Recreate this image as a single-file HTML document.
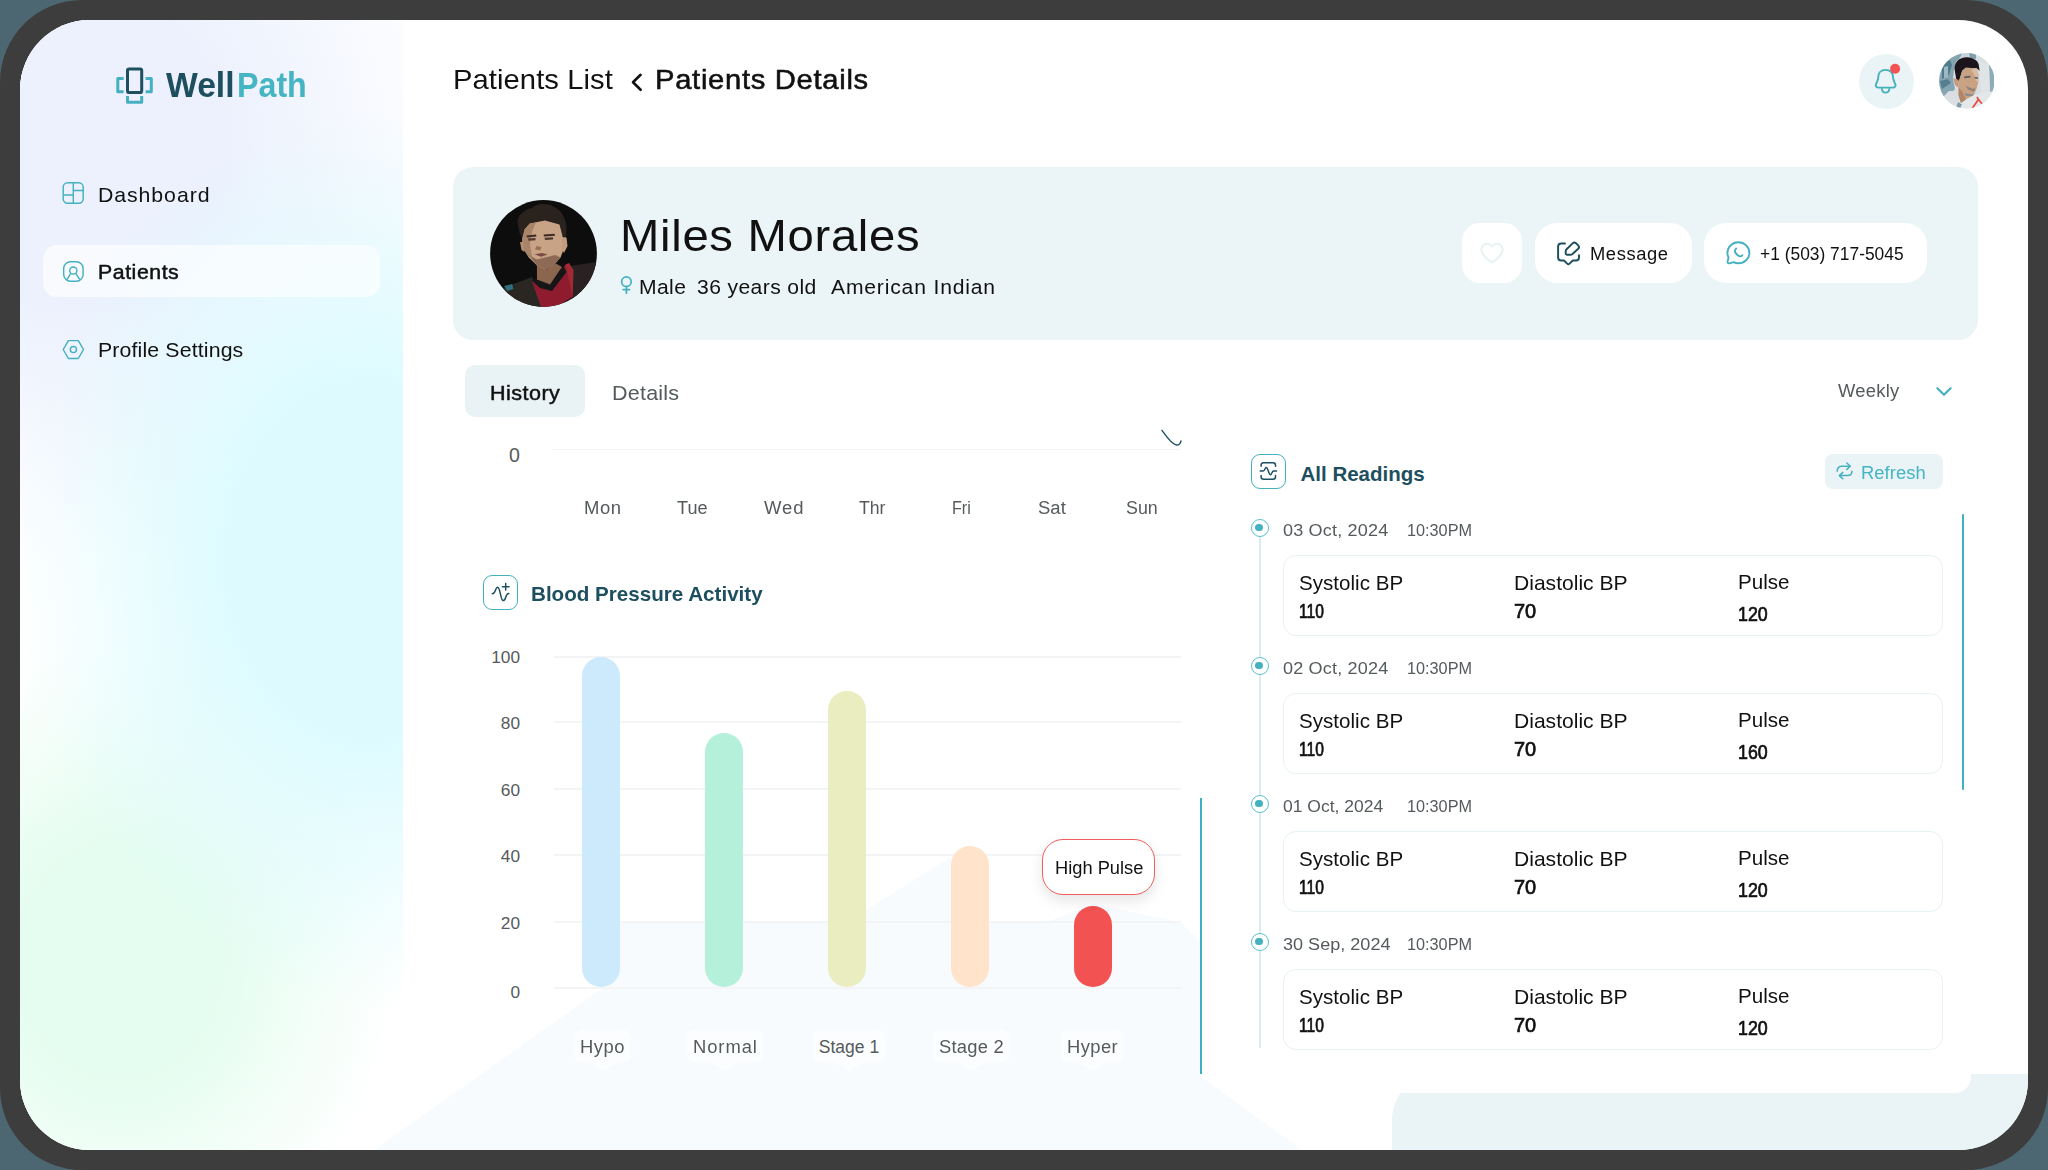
<!DOCTYPE html>
<html lang="en">
<head>
<meta charset="utf-8">
<title>WellPath - Patients Details</title>
<style>
html,body{margin:0;padding:0;}
body{width:2048px;height:1170px;overflow:hidden;background:#4c6771;font-family:"Liberation Sans",sans-serif;position:relative;}
.frame{position:absolute;left:0;top:0;width:2048px;height:1170px;background:#3d3d3d;border-radius:82px;}
.screen{position:absolute;left:20px;top:20px;width:2008px;height:1130px;border-radius:70px;overflow:hidden;background:#fff;}
.page{position:absolute;left:-20px;top:-20px;width:2048px;height:1170px;}
.abs{position:absolute;}
.t{position:absolute;white-space:pre;line-height:1;font-family:"Liberation Sans",sans-serif;}
.sidebar{position:absolute;left:20px;top:20px;width:383px;height:1130px;
 background:
  radial-gradient(ellipse 360px 450px at 350px 540px, rgba(221,251,255,1) 0%, rgba(221,251,255,1) 40%, rgba(221,251,255,0) 100%),
  radial-gradient(ellipse 280px 320px at 100px 940px, rgba(229,253,240,1) 0%, rgba(229,253,240,1) 36%, rgba(229,253,240,0) 100%),
  radial-gradient(ellipse 390px 420px at 60px 130px, rgba(236,241,253,1) 0%, rgba(236,241,253,1) 38%, rgba(236,241,253,0) 100%),
  #fff;}
.grid{position:absolute;left:554px;width:627px;height:2px;background:#f3f4f5;}
.bar{position:absolute;width:38px;border-radius:19px;}
.rcard{position:absolute;left:1282.5px;width:660px;height:80.6px;box-sizing:border-box;border:1.3px solid #e7f1f3;border-radius:13px;background:#fff;}
.dot{position:absolute;left:1250.5px;width:18px;height:18px;box-sizing:border-box;border:1.5px solid #5cbfcc;border-radius:50%;background:#fff;}
.dot i{position:absolute;left:3.9px;top:3.9px;width:7.2px;height:7.2px;border-radius:50%;background:#45b1c0;}
.xl{position:absolute;background:#fff;border-radius:8px;opacity:.7;filter:blur(1.2px);}
.xl:after{content:"";position:absolute;left:50%;bottom:-9px;margin-left:-16px;border-left:16px solid transparent;border-right:16px solid transparent;border-top:10px solid #fff;}
</style>
</head>
<body>
<div class="frame"></div>
<div class="screen"><div class="page">

<!-- background decorative shapes -->
<div class="abs" style="left:1392px;top:1074px;width:700px;height:100px;background:#eaf3f5;border-top-left-radius:46px;"></div>
<div class="abs" style="left:1380px;top:1040px;width:591px;height:53px;background:#fff;border-bottom-right-radius:16px;"></div>

<!-- sidebar -->
<div class="sidebar"></div>
<div class="abs" style="left:43px;top:245px;width:337px;height:52px;border-radius:14px;background:rgba(255,255,255,.62);"></div>

<svg class="abs" style="left:0;top:0" width="2048" height="1170" viewBox="0 0 2048 1170">
  <polygon fill="#f7fbfe" points="374,1150 601.5,989 601.5,922 847,922 970,845 970,922 1047,922 1093,904 1180,922 1200,941 1200,1076 1302,1150"/>
</svg>
<!-- logo -->
<svg class="abs" style="left:110px;top:60px" width="50" height="50" viewBox="110 60 50 50" fill="none">
  <rect x="127.5" y="68.9" width="14.2" height="23.6" rx="1.6" stroke="#1d4f5f" stroke-width="3"/>
  <path d="M123.6 78.5H117.8V91.7H123.6" stroke="#45b1c0" stroke-width="3" stroke-linejoin="round"/>
  <path d="M145.6 78.5H151.3V91.7H145.6" stroke="#45b1c0" stroke-width="3" stroke-linejoin="round"/>
  <path d="M127.5 96V102.2H141.7V96" stroke="#45b1c0" stroke-width="3" stroke-linejoin="round"/>
</svg>

<!-- nav icons -->
<svg class="abs" style="left:56px;top:176px" width="36" height="36" viewBox="0 0 36 36" fill="none" stroke="#45b1c0" stroke-width="1.45">
  <rect x="7.2" y="6.7" width="20" height="20.5" rx="4.4"/>
  <path d="M17.3 6.7V27.2M7.2 18.9H17.3M17.3 14.5H27.2"/>
</svg>
<svg class="abs" style="left:56px;top:254px" width="36" height="36" viewBox="0 0 36 36" fill="none" stroke="#45b1c0" stroke-width="1.45">
  <rect x="7.7" y="7.8" width="19.4" height="19.4" rx="6.8"/>
  <circle cx="17.3" cy="16.5" r="3.6"/>
  <path d="M10.9 25.6L14.8 19.4M23.8 25.6L19.8 19.4"/>
</svg>
<svg class="abs" style="left:56px;top:332px" width="36" height="36" viewBox="0 0 36 36" fill="none" stroke="#45b1c0" stroke-width="1.45" stroke-linejoin="round">
  <path d="M7.2 17.5L12.4 8.6H22.3L27.5 17.5L22.3 26.5H12.4Z"/>
  <circle cx="17.4" cy="17.5" r="3.1"/>
</svg>

<!-- breadcrumb chevron -->
<svg class="abs" style="left:626px;top:68px" width="22" height="28" viewBox="626 68 22 28" fill="none">
  <path d="M640.6 74.8L633 82.3L640.6 89.8" stroke="#111" stroke-width="2.6" stroke-linecap="round" stroke-linejoin="round"/>
</svg>

<!-- bell -->
<div class="abs" style="left:1858.7px;top:53.5px;width:55.6px;height:55.6px;border-radius:50%;background:#eaf3f5;"></div>
<svg class="abs" style="left:1866px;top:60px" width="42" height="42" viewBox="0 0 42 42" fill="none" stroke="#45b1c0" stroke-width="1.9" stroke-linejoin="round">
  <path d="M19.6 9.9C15 9.9 12.3 13 12.3 17C12.3 20 10.6 22.4 9.9 24.4C9.3 26.2 10.5 27.6 12.3 27.6H27C28.8 27.6 30 26.2 29.4 24.4C28.7 22.4 27 20 27 17C27 13 24.2 9.9 19.6 9.9Z"/>
  <path d="M15.8 28.2C16 31.3 17.5 32.6 19.6 32.6C21.7 32.6 23.2 31.3 23.4 28.2"/>
  <circle cx="29.1" cy="8.8" r="5" fill="#f25252" stroke="none"/>
</svg>

<!-- doctor avatar -->
<svg class="abs" style="left:1938.7px;top:53.4px" width="55.6" height="55.6" viewBox="0 0 55.6 55.6">
  <defs><clipPath id="cd"><circle cx="27.8" cy="27.8" r="27.7"/></clipPath>
  <filter id="bl2" x="-10%" y="-10%" width="120%" height="120%"><feGaussianBlur stdDeviation="0.55"/></filter></defs>
  <g clip-path="url(#cd)"><rect width="56" height="56" fill="#d8dfe3"/>
  <g filter="url(#bl2)">
    <path d="M0 0H24L20 6L17 9L15 16L14 26L16 36L9 44L0 52Z" fill="#86a5b2"/>
    <path d="M3 12L11 7L13 12L10 22L3 26Z" fill="#4f7b8d"/>
    <path d="M1 28L9 26L12 30L3 36Z" fill="#557f90"/>
    <path d="M5 14L9 13L9 24L5 25Z" fill="#9fb9c4"/>
    <path d="M22 0H30L29 5L23 5Z" fill="#c9d4da"/>
    <path d="M30 0H37L37 6L31 5Z" fill="#7f9fad"/>
    <path d="M50 12L55.6 14V44L51 40Z" fill="#8fabb7"/>
    <path d="M40 8L50 12L51 40L42 44Z" fill="#dfe4e7"/>
    <path d="M4 44L10 38L16 38L22 52L20 55.6H6Z" fill="#d9dfe3"/>
    <path d="M20 50L27 46L35 42L44 40L55.6 38V55.6H18Z" fill="#e3e8ea"/>
    <path d="M15.4 15.3C16 9 20 4.6 26 4.4C32 4 38 6.5 39.6 11L40.6 17.7L37.6 15.3L26.8 14.7L23.2 17.7L21.4 23.7L19.8 28.5L17.2 26.1Z" fill="#1b191b"/>
    <path d="M23.2 17.7L26.8 14.7L37.6 15.3L39.4 21.3L39.2 29.7L37.6 35.7L34.6 42.3L26.8 46.5L22 50L19.6 42.3L19.6 34.5L19.8 28.5L21.4 23.7Z" fill="#c9a283"/>
    <path d="M19.6 34.5L23 38L26 44L26.8 46.5L22 50L19.6 42.3Z" fill="#b08567"/>
    <path d="M32 17L37.6 15.3L39.4 21.3L39.2 29.7L36.5 27L35 21Z" fill="#d9bca4"/>
    <path d="M14.2 25L19.6 27L19.8 35L16 32Z" fill="#c59b7c"/>
    <path d="M25 23.5L31.5 22.8L31.5 24.6L25.5 25.2ZM35.5 24L39 24.3L39 25.8L35.5 25.6Z" fill="#5d5a5c"/>
    <path d="M27 33L34 36L36.5 34.5L35 38.5L29 36.5Z" fill="#8f7f7a"/>
    <path d="M25.5 40L33 41.5L35 40L33.5 43L27 43Z" fill="#8a8c90"/>
    <path d="M19 49L23 51.5L21 55.6H17Z" fill="#7f9aa8"/>
    <path d="M33.5 55L39.4 46.5L43 50.7M39.4 46.5L38 44" stroke="#f0483f" stroke-width="1.7" fill="none"/>
  </g></g>
</svg>

<!-- patient card -->
<div class="abs" style="left:453px;top:167px;width:1525px;height:173px;border-radius:20px;background:#ebf4f6;"></div>
<svg class="abs" style="left:490.4px;top:200.4px" width="107" height="107" viewBox="0 0 107 107">
  <defs><clipPath id="cp"><circle cx="53.5" cy="53.5" r="53.4"/></clipPath>
  <filter id="bl" x="-10%" y="-10%" width="120%" height="120%"><feGaussianBlur stdDeviation="0.7"/></filter></defs>
  <g clip-path="url(#cp)"><rect width="107" height="107" fill="#0e0d0e"/>
  <g filter="url(#bl)">
    <path d="M4 94L14 88L42 77L52 107H0Z" fill="#2b2624"/>
    <path d="M80 66L107 62V100L82 107Z" fill="#2a2422"/>
    <path d="M41.8 80.8L59 86L75.6 64.5L82.5 71V97L66 107H51Z" fill="#8e1f2e"/>
    <path d="M75.6 64.5L79 63L83.5 70L82.5 98L80 84Z" fill="#a32a35"/>
    <path d="M41.8 80.8L47 77.5L59 84L74 67L76.5 72L62 91L50 88Z" fill="#171314"/>
    <path d="M46.9 63L56 69.5L66 63.5L72 67L60 84.5L47 79.5Z" fill="#8a6650"/>
    <path d="M27.4 21C29 13 36 9 42 8C46 3.5 58 2 65 7.5C71 10 75 17 76.5 26L76 38L72 35L69.5 25L55 21L40 24L35 30L33 40L29.5 33Z" fill="#2a211f"/>
    <path d="M34.6 29.5L39.8 23.5L55 20.5L69.5 24.5L72.6 36.5L74.6 47L70.5 57.5L63.5 65.5L55 69.5L47 65.5L38.7 57.2L33.6 49L32.1 39.8Z" fill="#c9a385"/>
    <path d="M34.6 29.5L39.8 23.5L46 22.5L42 32L40 44L42 56L38.7 57.2L33.6 49L32.1 39.8Z" fill="#a98468"/>
    <path d="M38.7 55L46.9 59.5L55 57.5L65.4 55L70.5 57.5L63.5 65.5L55 69.5L47 65.5Z" fill="#8d6b56"/>
    <path d="M72 37L76.5 37.5L77.5 46L74 53L72.5 50Z" fill="#c39b7c"/>
    <path d="M30 42L33 42L34.5 52L31.5 50Z" fill="#b58d70"/>
    <path d="M36.5 35.5L46 34.5L46.5 36.5L37 37.5ZM53.5 34.5L64.5 33.8L65 35.8L54 36.5Z" fill="#3b2c27"/>
    <path d="M38 38.6L45.5 38L45.5 40.3L38.5 40.8ZM54.5 37.8L63 37.2L63 39.6L55 40Z" fill="#4d3a33"/>
    <path d="M46.5 46L51.5 47L50 50.5L45 49.5Z" fill="#9a7259"/>
    <path d="M44.5 54.3L52 53L57.5 54.6L51 56.8Z" fill="#7a4a45"/>
    <path d="M14.1 85.9L22.3 83.9L23.3 89L17.2 91Z" fill="#2d6e7d"/>
  </g></g>
</svg>
<!-- gender icon -->
<svg class="abs" style="left:612px;top:270px" width="28" height="28" viewBox="0 0 28 28" fill="none" stroke="#45b1c0" stroke-width="1.7" stroke-linecap="round">
  <circle cx="14.4" cy="11.7" r="4.75"/>
  <path d="M14.4 16.6V23.2M11.2 19.7H17.5"/>
</svg>

<!-- action buttons -->
<div class="abs" style="left:1462px;top:223px;width:60px;height:60px;border-radius:18px;background:#fff;"></div>
<div class="abs" style="left:1535px;top:223px;width:157px;height:60px;border-radius:22px;background:#fff;"></div>
<div class="abs" style="left:1704px;top:223px;width:223px;height:60px;border-radius:22px;background:#fff;"></div>
<svg class="abs" style="left:1474px;top:235px" width="36" height="36" viewBox="0 0 36 36" fill="none" stroke="#e6f1f3" stroke-width="1.9" stroke-linejoin="round">
  <path d="M18 11.6C16 8.5 12.5 8 10.2 9.5C7 11.5 6.8 15.5 8.5 18.5C10.5 22 14.5 25.5 18 27.5C21.5 25.5 25.5 22 27.5 18.5C29.2 15.5 29 11.5 25.8 9.5C23.5 8 20 8.5 18 11.6Z"/>
</svg>
<svg class="abs" style="left:1550px;top:234px" width="38" height="38" viewBox="0 0 38 38" fill="none" stroke="#1d4f5f" stroke-width="1.95" stroke-linecap="round" stroke-linejoin="round">
  <path d="M15 9.5H11.2C9.4 9.5 8.1 10.9 8.1 12.6V23.4C8.1 25.1 9.4 26.5 11.2 26.5H14L17.2 29.6C17.9 30.3 18.8 30.3 19.5 29.6L22.8 26.5H25.9C27.7 26.5 29 25.1 29 23.4V21.3"/>
  <path d="M15.7 17.3C15.7 16.4 16 15.8 16.6 15.2L22.6 9.4C23.6 8.4 25 8.4 26 9.3L28.2 11.4C29.2 12.4 29.2 13.8 28.2 14.8L22.2 20.2C21.7 20.6 21.2 20.8 20.6 20.8H17.2C16.3 20.8 15.7 20.2 15.7 19.3Z"/>
</svg>
<svg class="abs" style="left:1719px;top:234px" width="38" height="38" viewBox="0 0 38 38" fill="none" stroke="#45b1c0" stroke-width="1.9" stroke-linecap="round" stroke-linejoin="round">
  <path d="M19.4 8.2C25.5 8.2 30.4 13 30.4 18.9C30.4 24.8 25.5 29.3 19.4 29.3C17.6 29.3 16 28.9 14.6 28.2L10.6 29.3C9.2 29.7 8.2 28.6 8.6 27.3L9.6 23.6C8.8 22.2 8.4 20.6 8.4 18.9C8.4 13 13.3 8.2 19.4 8.2Z"/>
  <path d="M17.2 14.6C15.3 16 15.6 18 17.4 20C19.2 22 21.4 23.4 23.3 21.3"/>
</svg>

<!-- tabs -->
<div class="abs" style="left:465.4px;top:364.8px;width:119.4px;height:52.6px;border-radius:10px;background:#e9f3f5;"></div>
<svg class="abs" style="left:1930px;top:380px" width="28" height="24" viewBox="1930 380 28 24" fill="none">
  <path d="M1937.4 388.2L1944 394.8L1950.6 388.2" stroke="#45b1c0" stroke-width="2.2" stroke-linecap="round" stroke-linejoin="round"/>
</svg>

<!-- chart 1 remnants -->
<div class="grid" style="top:448.8px;left:553px;width:628px;height:1.6px;"></div>
<svg class="abs" style="left:1155px;top:425px" width="32" height="26" viewBox="1155 425 32 26" fill="none">
  <path d="M1162 430.3C1166 435.8 1171 443.4 1176 444.8C1178.6 445.5 1180.4 444 1181 441" stroke="#1d4f5f" stroke-width="1.4" stroke-linecap="round"/>
</svg>

<!-- chart 2 -->
<div class="abs" style="left:483.2px;top:574.7px;width:35px;height:35px;box-sizing:border-box;border:1.5px solid #45b1c0;border-radius:9px;background:#fff;"></div>
<svg class="abs" style="left:478px;top:570px" width="44" height="44" viewBox="0 0 44 44" fill="none" stroke="#1d4f5f" stroke-width="1.5" stroke-linecap="round" stroke-linejoin="round">
  <path d="M14.3 23.8C17.6 24.2 17.2 17.2 19.6 17.2C22.4 17.2 22.4 30.6 25.3 30.6C28 30.6 27.3 23.4 30.8 23.6"/>
  <path d="M24.4 16.7H31M27.7 13.6V19.9"/>
</svg>
<div class="grid" style="top:656.2px;"></div>
<div class="grid" style="top:721.4px;"></div>
<div class="grid" style="top:788px;"></div>
<div class="grid" style="top:854.4px;"></div>
<div class="grid" style="top:921px;"></div>
<div class="grid" style="top:987px;"></div>

<div class="xl" style="left:574px;top:1030px;width:57px;height:32px;"></div>
<div class="xl" style="left:687px;top:1030px;width:76px;height:32px;"></div>
<div class="xl" style="left:813px;top:1030px;width:72px;height:32px;"></div>
<div class="xl" style="left:933px;top:1030px;width:76px;height:32px;"></div>
<div class="xl" style="left:1061px;top:1030px;width:63px;height:32px;"></div>

<div class="bar" style="left:582.2px;top:657.4px;height:330px;background:#cdeafd;"></div>
<div class="bar" style="left:705px;top:732.8px;height:254.6px;background:#b5f1da;"></div>
<div class="bar" style="left:828px;top:690.9px;height:296.5px;background:#e9edbf;"></div>
<div class="bar" style="left:951px;top:845.7px;height:141.7px;background:#ffe3cb;"></div>
<div class="bar" style="left:1074px;top:905.9px;height:81.5px;background:#f25252;"></div>

<div class="abs" style="left:1041.6px;top:839.2px;width:113px;height:56px;box-sizing:border-box;border:1.6px solid #f25e5e;border-radius:21px;background:#fff;box-shadow:0 6px 14px rgba(0,0,0,.10);"></div>

<div class="abs" style="left:1199.6px;top:798px;width:2.4px;height:275.5px;background:#3fb0c0;"></div>

<!-- right panel -->
<div class="abs" style="left:1251.2px;top:454px;width:35px;height:35px;box-sizing:border-box;border:1.5px solid #45b1c0;border-radius:9px;background:#fff;"></div>
<svg class="abs" style="left:1246px;top:449px" width="44" height="44" viewBox="0 0 44 44" fill="none" stroke="#1d4f5f" stroke-width="1.5" stroke-linecap="round" stroke-linejoin="round">
  <path d="M15.1 17.3V16.2C15.1 14.7 16.1 13.7 17.6 13.7H27C28.5 13.7 29.5 14.7 29.5 16.2V17.3"/>
  <path d="M15.1 26.6V27.7C15.1 29.2 16.1 30.2 17.6 30.2H27C28.5 30.2 29.5 29.2 29.5 27.7V26.6"/>
  <path d="M14.2 22H17.2C18.9 22 19 18.4 20.3 18.4C22 18.4 22.8 25.8 24.4 25.8C25.8 25.8 25.9 22 27.6 22H30.5"/>
</svg>
<div class="abs" style="left:1825px;top:454px;width:117.6px;height:35.2px;border-radius:8px;background:#eaf3f5;"></div>
<svg class="abs" style="left:1832px;top:460px" width="26" height="24" viewBox="1832 460 26 24" fill="none" stroke="#45b1c0" stroke-width="1.5" stroke-linecap="round" stroke-linejoin="round">
  <path d="M1837.2 471.2C1837.2 468 1839 466.2 1842 466.2H1850"/>
  <path d="M1846.8 463L1850.2 466.2L1846.8 469.4"/>
  <path d="M1852 471.3C1852 474.2 1850.2 475.6 1847.4 475.6H1839.6"/>
  <path d="M1842.8 472.4L1839.4 475.6L1842.8 478.8"/>
</svg>

<div class="abs" style="left:1258.5px;top:536px;width:2px;height:512px;background:#d9edf0;"></div>
<div class="dot" style="top:519px;"><i></i></div>
<div class="dot" style="top:657.3px;"><i></i></div>
<div class="dot" style="top:795.3px;"><i></i></div>
<div class="dot" style="top:933.3px;"><i></i></div>
<div class="rcard" style="top:555.2px;"></div>
<div class="rcard" style="top:693.4px;"></div>
<div class="rcard" style="top:831.4px;"></div>
<div class="rcard" style="top:969.4px;"></div>
<div class="abs" style="left:1962px;top:514.2px;width:2.4px;height:275.4px;background:#3fb0c0;border-radius:1px;"></div>

<div class="t" style="top:65.9px;font-size:27.8px;color:#111111;letter-spacing:0.06px;transform:scaleX(1.050);transform-origin:0 0;left:452.6px;">Patients List</div>
<div class="t" style="top:65.9px;font-size:27.8px;color:#111111;letter-spacing:0.66px;-webkit-text-stroke:0.55px #111111;transform:scaleX(1.050);transform-origin:0 0;left:654.8px;">Patients Details</div>
<div class="t" style="top:67.6px;font-size:35.5px;color:#1d4f5f;font-weight:700;transform:scaleX(0.948);transform-origin:0 0;left:166.3px;">Well</div>
<div class="t" style="top:67.6px;font-size:35.5px;color:#45b5c4;font-weight:700;transform:scaleX(0.907);transform-origin:0 0;left:236.6px;">Path</div>
<div class="t" style="top:184.5px;font-size:20.3px;color:#111111;letter-spacing:0.87px;transform:scaleX(1.050);transform-origin:0 0;left:98.3px;">Dashboard</div>
<div class="t" style="top:262.2px;font-size:20.3px;color:#111111;letter-spacing:0.52px;-webkit-text-stroke:0.5px #111111;transform:scaleX(1.050);transform-origin:0 0;left:98.3px;">Patients</div>
<div class="t" style="top:340.2px;font-size:20.3px;color:#111111;letter-spacing:0.13px;transform:scaleX(1.050);transform-origin:0 0;left:98.3px;">Profile Settings</div>
<div class="t" style="top:212.9px;font-size:45px;color:#111111;letter-spacing:0.65px;transform:scaleX(1.050);transform-origin:0 0;left:620.2px;">Miles Morales</div>
<div class="t" style="top:276.6px;font-size:20.1px;color:#111111;letter-spacing:0.37px;transform:scaleX(1.050);transform-origin:0 0;left:639.2px;">Male</div>
<div class="t" style="top:276.6px;font-size:20.1px;color:#111111;letter-spacing:0.38px;transform:scaleX(1.050);transform-origin:0 0;left:697.2px;">36 years old</div>
<div class="t" style="top:276.6px;font-size:20.1px;color:#111111;letter-spacing:0.79px;transform:scaleX(1.050);transform-origin:0 0;left:831.1px;">American Indian</div>
<div class="t" style="top:246.4px;font-size:17.5px;color:#111111;letter-spacing:0.53px;transform:scaleX(1.050);transform-origin:0 0;left:1590.4px;">Message</div>
<div class="t" style="top:246.4px;font-size:17.5px;color:#111111;transform:scaleX(0.994);transform-origin:0 0;left:1759.9px;">+1 (503) 717-5045</div>
<div class="t" style="top:383.4px;font-size:20.5px;color:#111111;letter-spacing:0.46px;-webkit-text-stroke:0.5px #111111;transform:scaleX(1.050);transform-origin:0 0;left:490.0px;">History</div>
<div class="t" style="top:383.4px;font-size:20.5px;color:#555a5c;letter-spacing:0.21px;transform:scaleX(1.050);transform-origin:0 0;left:611.9px;">Details</div>
<div class="t" style="top:382.8px;font-size:17.5px;color:#555a5c;letter-spacing:0.26px;transform:scaleX(1.050);transform-origin:0 0;left:1837.7px;">Weekly</div>
<div class="t" style="top:445.7px;font-size:19.6px;color:#555a5c;left:320.0px;width:200px;text-align:right;">0</div>
<div class="t" style="top:499.5px;font-size:17.6px;color:#555a5c;letter-spacing:0.55px;transform:scaleX(1.050);transform-origin:0 0;left:583.5px;">Mon</div>
<div class="t" style="top:499.5px;font-size:17.6px;color:#555a5c;transform:scaleX(1.028);transform-origin:0 0;left:677.0px;">Tue</div>
<div class="t" style="top:499.5px;font-size:17.6px;color:#555a5c;letter-spacing:0.88px;transform:scaleX(1.050);transform-origin:0 0;left:763.8px;">Wed</div>
<div class="t" style="top:499.5px;font-size:17.6px;color:#555a5c;transform:scaleX(1.004);transform-origin:0 0;left:858.8px;">Thr</div>
<div class="t" style="top:499.5px;font-size:17.6px;color:#555a5c;transform:scaleX(0.916);transform-origin:0 0;left:951.6px;">Fri</div>
<div class="t" style="top:499.5px;font-size:17.6px;color:#555a5c;letter-spacing:0.03px;transform:scaleX(1.050);transform-origin:0 0;left:1038.4px;">Sat</div>
<div class="t" style="top:499.5px;font-size:17.6px;color:#555a5c;transform:scaleX(1.012);transform-origin:0 0;left:1126.2px;">Sun</div>
<div class="t" style="top:584.0px;font-size:20.5px;color:#1d4f5f;font-weight:700;transform:scaleX(1.005);transform-origin:0 0;left:531.2px;">Blood Pressure Activity</div>
<div class="t" style="top:648.8px;font-size:17.3px;color:#555a5c;left:320.0px;width:200px;text-align:right;">100</div>
<div class="t" style="top:715.0px;font-size:17.3px;color:#555a5c;left:320.0px;width:200px;text-align:right;">80</div>
<div class="t" style="top:781.7px;font-size:17.3px;color:#555a5c;left:320.0px;width:200px;text-align:right;">60</div>
<div class="t" style="top:848.1px;font-size:17.3px;color:#555a5c;left:320.0px;width:200px;text-align:right;">40</div>
<div class="t" style="top:914.8px;font-size:17.3px;color:#555a5c;left:320.0px;width:200px;text-align:right;">20</div>
<div class="t" style="top:984.1px;font-size:17.3px;color:#555a5c;left:320.0px;width:200px;text-align:right;">0</div>
<div class="t" style="top:1038.5px;font-size:17.5px;color:#555a5c;letter-spacing:0.51px;transform:scaleX(1.050);transform-origin:0 0;left:580.0px;">Hypo</div>
<div class="t" style="top:1038.5px;font-size:17.5px;color:#555a5c;letter-spacing:0.89px;transform:scaleX(1.050);transform-origin:0 0;left:693.1px;">Normal</div>
<div class="t" style="top:1038.5px;font-size:17.5px;color:#555a5c;left:818.8px;">Stage 1</div>
<div class="t" style="top:1038.5px;font-size:17.5px;color:#555a5c;letter-spacing:0.23px;transform:scaleX(1.050);transform-origin:0 0;left:938.7px;">Stage 2</div>
<div class="t" style="top:1038.5px;font-size:17.5px;color:#555a5c;letter-spacing:0.40px;transform:scaleX(1.050);transform-origin:0 0;left:1067.1px;">Hyper</div>
<div class="t" style="top:859.5px;font-size:17.5px;color:#111111;transform:scaleX(1.044);transform-origin:0 0;left:1054.5px;">High Pulse</div>
<div class="t" style="top:463.6px;font-size:20.5px;color:#1d4f5f;font-weight:700;left:1300.5px;">All Readings</div>
<div class="t" style="top:464.8px;font-size:17.5px;color:#45b5c4;letter-spacing:0.06px;transform:scaleX(1.050);transform-origin:0 0;left:1861.4px;">Refresh</div>
<div class="t" style="top:521.7px;font-size:17.2px;color:#555a5c;letter-spacing:0.16px;transform:scaleX(1.050);transform-origin:0 0;left:1282.8px;">03 Oct, 2024</div>
<div class="t" style="top:521.7px;font-size:17.2px;color:#555a5c;transform:scaleX(0.945);transform-origin:0 0;left:1406.9px;">10:30PM</div>
<div class="t" style="top:573.0px;font-size:20.2px;color:#111111;transform:scaleX(1.020);transform-origin:0 0;left:1299.0px;">Systolic BP</div>
<div class="t" style="top:602.2px;font-size:19.5px;color:#111111;-webkit-text-stroke:0.7px #111111;transform:scaleX(0.800);transform-origin:0 0;left:1299.0px;">110</div>
<div class="t" style="top:573.0px;font-size:20.2px;color:#111111;transform:scaleX(1.044);transform-origin:0 0;left:1513.6px;">Diastolic BP</div>
<div class="t" style="top:602.2px;font-size:19.5px;color:#111111;-webkit-text-stroke:0.7px #111111;transform:scaleX(1.023);transform-origin:0 0;left:1513.6px;">70</div>
<div class="t" style="top:571.5px;font-size:20.2px;color:#111111;transform:scaleX(1.020);transform-origin:0 0;left:1738.1px;">Pulse</div>
<div class="t" style="top:604.8px;font-size:19.5px;color:#111111;-webkit-text-stroke:0.7px #111111;transform:scaleX(0.913);transform-origin:0 0;left:1738.1px;">120</div>
<div class="t" style="top:659.7px;font-size:17.2px;color:#555a5c;letter-spacing:0.16px;transform:scaleX(1.050);transform-origin:0 0;left:1282.8px;">02 Oct, 2024</div>
<div class="t" style="top:659.7px;font-size:17.2px;color:#555a5c;transform:scaleX(0.945);transform-origin:0 0;left:1406.9px;">10:30PM</div>
<div class="t" style="top:711.0px;font-size:20.2px;color:#111111;transform:scaleX(1.020);transform-origin:0 0;left:1299.0px;">Systolic BP</div>
<div class="t" style="top:740.2px;font-size:19.5px;color:#111111;-webkit-text-stroke:0.7px #111111;transform:scaleX(0.800);transform-origin:0 0;left:1299.0px;">110</div>
<div class="t" style="top:711.0px;font-size:20.2px;color:#111111;transform:scaleX(1.044);transform-origin:0 0;left:1513.6px;">Diastolic BP</div>
<div class="t" style="top:740.2px;font-size:19.5px;color:#111111;-webkit-text-stroke:0.7px #111111;transform:scaleX(1.023);transform-origin:0 0;left:1513.6px;">70</div>
<div class="t" style="top:709.5px;font-size:20.2px;color:#111111;transform:scaleX(1.020);transform-origin:0 0;left:1738.1px;">Pulse</div>
<div class="t" style="top:742.8px;font-size:19.5px;color:#111111;-webkit-text-stroke:0.7px #111111;transform:scaleX(0.913);transform-origin:0 0;left:1738.1px;">160</div>
<div class="t" style="top:797.7px;font-size:17.2px;color:#555a5c;transform:scaleX(1.018);transform-origin:0 0;left:1282.8px;">01 Oct, 2024</div>
<div class="t" style="top:797.7px;font-size:17.2px;color:#555a5c;transform:scaleX(0.945);transform-origin:0 0;left:1406.9px;">10:30PM</div>
<div class="t" style="top:849.0px;font-size:20.2px;color:#111111;transform:scaleX(1.020);transform-origin:0 0;left:1299.0px;">Systolic BP</div>
<div class="t" style="top:878.2px;font-size:19.5px;color:#111111;-webkit-text-stroke:0.7px #111111;transform:scaleX(0.800);transform-origin:0 0;left:1299.0px;">110</div>
<div class="t" style="top:849.0px;font-size:20.2px;color:#111111;transform:scaleX(1.044);transform-origin:0 0;left:1513.6px;">Diastolic BP</div>
<div class="t" style="top:878.2px;font-size:19.5px;color:#111111;-webkit-text-stroke:0.7px #111111;transform:scaleX(1.023);transform-origin:0 0;left:1513.6px;">70</div>
<div class="t" style="top:847.5px;font-size:20.2px;color:#111111;transform:scaleX(1.020);transform-origin:0 0;left:1738.1px;">Pulse</div>
<div class="t" style="top:880.8px;font-size:19.5px;color:#111111;-webkit-text-stroke:0.7px #111111;transform:scaleX(0.913);transform-origin:0 0;left:1738.1px;">120</div>
<div class="t" style="top:935.7px;font-size:17.2px;color:#555a5c;letter-spacing:0.01px;transform:scaleX(1.050);transform-origin:0 0;left:1282.8px;">30 Sep, 2024</div>
<div class="t" style="top:935.7px;font-size:17.2px;color:#555a5c;transform:scaleX(0.945);transform-origin:0 0;left:1406.9px;">10:30PM</div>
<div class="t" style="top:987.0px;font-size:20.2px;color:#111111;transform:scaleX(1.020);transform-origin:0 0;left:1299.0px;">Systolic BP</div>
<div class="t" style="top:1016.2px;font-size:19.5px;color:#111111;-webkit-text-stroke:0.7px #111111;transform:scaleX(0.800);transform-origin:0 0;left:1299.0px;">110</div>
<div class="t" style="top:987.0px;font-size:20.2px;color:#111111;transform:scaleX(1.044);transform-origin:0 0;left:1513.6px;">Diastolic BP</div>
<div class="t" style="top:1016.2px;font-size:19.5px;color:#111111;-webkit-text-stroke:0.7px #111111;transform:scaleX(1.023);transform-origin:0 0;left:1513.6px;">70</div>
<div class="t" style="top:985.5px;font-size:20.2px;color:#111111;transform:scaleX(1.020);transform-origin:0 0;left:1738.1px;">Pulse</div>
<div class="t" style="top:1018.8px;font-size:19.5px;color:#111111;-webkit-text-stroke:0.7px #111111;transform:scaleX(0.913);transform-origin:0 0;left:1738.1px;">120</div>
</div></div>
</body>
</html>
